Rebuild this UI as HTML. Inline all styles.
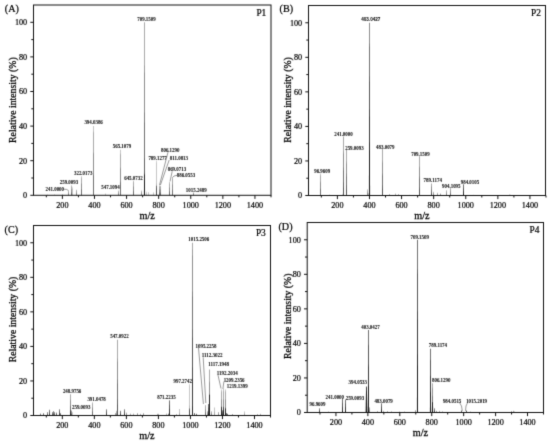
<!DOCTYPE html>
<html><head><meta charset="utf-8"><title>Mass spectra P1-P4</title>
<style>html,body{margin:0;padding:0;background:#fff;}body{width:550px;height:444px;overflow:hidden;}svg{display:block;}</style></head><body>
<svg width="550" height="444" viewBox="0 0 550 444">
<defs><filter id="soft" x="0" y="0" width="100%" height="100%" filterUnits="objectBoundingBox" color-interpolation-filters="sRGB"><feConvolveMatrix order="3" kernelMatrix="1 6 1 6 36 6 1 6 1" divisor="64" edgeMode="duplicate"/></filter></defs>
<g filter="url(#soft)">
<rect x="0" y="0" width="550" height="444" fill="#fff"/>
<g id="panelA">
<polygon points="47.36,195.3 47.43,194.44 47.57,194.44 47.64,195.3" fill="#1e1e1e"/>
<polygon points="54.36,195.3 54.43,194.26 54.57,194.26 54.64,195.3" fill="#1e1e1e"/>
<polygon points="62.36,195.3 62.43,194.09 62.57,194.09 62.64,195.3" fill="#1e1e1e"/>
<polygon points="68.2,195.3 68.37,190.63 68.63,190.63 68.8,195.3" fill="#1e1e1e"/>
<polygon points="71.16,195.3 71.36,185.27 71.64,185.27 71.84,195.3" fill="#1e1e1e"/>
<polygon points="72.34,195.3 72.42,186.65 72.58,186.65 72.66,195.3" fill="#1e1e1e"/>
<polygon points="76.2,195.3 76.37,189.76 76.63,189.76 76.8,195.3" fill="#1e1e1e"/>
<polygon points="81.16,195.3 81.36,176.27 81.64,176.27 81.84,195.3" fill="#1e1e1e"/>
<polygon points="93.16,195.3 93.36,126.1 93.64,126.1 93.84,195.3" fill="#1e1e1e"/>
<polygon points="105.34,195.3 105.42,193.57 105.58,193.57 105.66,195.3" fill="#1e1e1e"/>
<polygon points="118.2,195.3 118.37,190.46 118.63,190.46 118.8,195.3" fill="#1e1e1e"/>
<polygon points="120.16,195.3 120.36,149.63 120.64,149.63 120.84,195.3" fill="#1e1e1e"/>
<polygon points="133.16,195.3 133.36,180.77 133.64,180.77 133.84,195.3" fill="#1e1e1e"/>
<polygon points="141.2,195.3 141.37,190.46 141.63,190.46 141.8,195.3" fill="#1e1e1e"/>
<polygon points="144.12,195.3 144.34,22.3 144.66,22.3 144.88,195.3" fill="#1e1e1e"/>
<polygon points="143.95,195.3 144.08,174.54 144.92,174.54 145.05,195.3" fill="#1e1e1e"/>
<polygon points="146.34,195.3 146.42,191.49 146.58,191.49 146.66,195.3" fill="#1e1e1e"/>
<polygon points="148.34,195.3 148.42,192.01 148.58,192.01 148.66,195.3" fill="#1e1e1e"/>
<polygon points="153.34,195.3 153.42,192.36 153.58,192.36 153.66,195.3" fill="#1e1e1e"/>
<polygon points="156.32,195.3 156.41,160.87 156.59,160.87 156.68,195.3" fill="#1e1e1e"/>
<polygon points="156.16,195.3 156.24,185.79 156.76,185.79 156.84,195.3" fill="#1e1e1e"/>
<polygon points="159.16,195.3 159.36,185.27 159.64,185.27 159.84,195.3" fill="#1e1e1e"/>
<polygon points="160.16,195.3 160.36,185.79 160.64,185.79 160.84,195.3" fill="#1e1e1e"/>
<polygon points="169.16,195.3 169.36,181.98 169.64,181.98 169.84,195.3" fill="#1e1e1e"/>
<polygon points="172.16,195.3 172.36,177.31 172.64,177.31 172.84,195.3" fill="#1e1e1e"/>
<polygon points="193.2,195.3 193.37,192.53 193.63,192.53 193.8,195.3" fill="#1e1e1e"/>
<polyline points="63.8,189.2 66.5,189.4 68.6,190.6" fill="none" stroke="#555" stroke-width="0.6"/>
<polyline points="168,152.2 159.5,185" fill="none" stroke="#555" stroke-width="0.6"/>
<polyline points="169.2,160 160.4,185" fill="none" stroke="#555" stroke-width="0.6"/>
<polyline points="172.2,171.3 170,181.5" fill="none" stroke="#555" stroke-width="0.6"/>
<polyline points="177,175.3 174,176 172.6,177.5" fill="none" stroke="#555" stroke-width="0.6"/>
<text x="146.5" y="20.8" text-anchor="middle" font-family='"Liberation Serif", "Times New Roman", serif' font-weight="bold" font-size="5.1" fill="#111" stroke="#111" stroke-width="0.06" textLength="18.45" lengthAdjust="spacingAndGlyphs">709.1509</text>
<text x="93.6" y="124.4" text-anchor="middle" font-family='"Liberation Serif", "Times New Roman", serif' font-weight="bold" font-size="5.1" fill="#111" stroke="#111" stroke-width="0.06" textLength="18.45" lengthAdjust="spacingAndGlyphs">394.0386</text>
<text x="122" y="148.4" text-anchor="middle" font-family='"Liberation Serif", "Times New Roman", serif' font-weight="bold" font-size="5.1" fill="#111" stroke="#111" stroke-width="0.06" textLength="18.45" lengthAdjust="spacingAndGlyphs">565.1079</text>
<text x="83.2" y="175.2" text-anchor="middle" font-family='"Liberation Serif", "Times New Roman", serif' font-weight="bold" font-size="5.1" fill="#111" stroke="#111" stroke-width="0.06" textLength="18.45" lengthAdjust="spacingAndGlyphs">322.0173</text>
<text x="69" y="184.4" text-anchor="middle" font-family='"Liberation Serif", "Times New Roman", serif' font-weight="bold" font-size="5.1" fill="#111" stroke="#111" stroke-width="0.06" textLength="18.45" lengthAdjust="spacingAndGlyphs">259.0093</text>
<text x="54.8" y="190.5" text-anchor="middle" font-family='"Liberation Serif", "Times New Roman", serif' font-weight="bold" font-size="5.1" fill="#111" stroke="#111" stroke-width="0.06" textLength="18.45" lengthAdjust="spacingAndGlyphs">241.0000</text>
<text x="110.5" y="188.7" text-anchor="middle" font-family='"Liberation Serif", "Times New Roman", serif' font-weight="bold" font-size="5.1" fill="#111" stroke="#111" stroke-width="0.06" textLength="18.45" lengthAdjust="spacingAndGlyphs">547.1094</text>
<text x="133.4" y="180" text-anchor="middle" font-family='"Liberation Serif", "Times New Roman", serif' font-weight="bold" font-size="5.1" fill="#111" stroke="#111" stroke-width="0.06" textLength="18.45" lengthAdjust="spacingAndGlyphs">645.0732</text>
<text x="157.6" y="160.3" text-anchor="middle" font-family='"Liberation Serif", "Times New Roman", serif' font-weight="bold" font-size="5.1" fill="#111" stroke="#111" stroke-width="0.06" textLength="18.45" lengthAdjust="spacingAndGlyphs">789.1277</text>
<text x="170.2" y="152.4" text-anchor="middle" font-family='"Liberation Serif", "Times New Roman", serif' font-weight="bold" font-size="5.1" fill="#111" stroke="#111" stroke-width="0.06" textLength="18.45" lengthAdjust="spacingAndGlyphs">806.1290</text>
<text x="178.9" y="160.3" text-anchor="middle" font-family='"Liberation Serif", "Times New Roman", serif' font-weight="bold" font-size="5.1" fill="#111" stroke="#111" stroke-width="0.06" textLength="18.45" lengthAdjust="spacingAndGlyphs">811.0813</text>
<text x="176.9" y="171.3" text-anchor="middle" font-family='"Liberation Serif", "Times New Roman", serif' font-weight="bold" font-size="5.1" fill="#111" stroke="#111" stroke-width="0.06" textLength="18.45" lengthAdjust="spacingAndGlyphs">869.0713</text>
<text x="186" y="177.2" text-anchor="middle" font-family='"Liberation Serif", "Times New Roman", serif' font-weight="bold" font-size="5.1" fill="#111" stroke="#111" stroke-width="0.06" textLength="18.45" lengthAdjust="spacingAndGlyphs">886.0553</text>
<text x="196.3" y="191.8" text-anchor="middle" font-family='"Liberation Serif", "Times New Roman", serif' font-weight="bold" font-size="5.1" fill="#111" stroke="#111" stroke-width="0.06" textLength="20.95" lengthAdjust="spacingAndGlyphs">1015.2489</text>
<rect x="33.5" y="5" width="237.5" height="190.3" fill="none" stroke="#111" stroke-width="1"/>
<line x1="46.34" y1="195.3" x2="46.34" y2="197.3" stroke="#111" stroke-width="1"/>
<line x1="62.39" y1="195.3" x2="62.39" y2="198.9" stroke="#111" stroke-width="1"/>
<text x="62.39" y="207.8" text-anchor="middle" font-family='"Liberation Serif", "Times New Roman", serif' font-size="8.2" fill="#000" stroke="#000" stroke-width="0.2">200</text>
<line x1="78.43" y1="195.3" x2="78.43" y2="197.3" stroke="#111" stroke-width="1"/>
<line x1="94.48" y1="195.3" x2="94.48" y2="198.9" stroke="#111" stroke-width="1"/>
<text x="94.48" y="207.8" text-anchor="middle" font-family='"Liberation Serif", "Times New Roman", serif' font-size="8.2" fill="#000" stroke="#000" stroke-width="0.2">400</text>
<line x1="110.53" y1="195.3" x2="110.53" y2="197.3" stroke="#111" stroke-width="1"/>
<line x1="126.57" y1="195.3" x2="126.57" y2="198.9" stroke="#111" stroke-width="1"/>
<text x="126.57" y="207.8" text-anchor="middle" font-family='"Liberation Serif", "Times New Roman", serif' font-size="8.2" fill="#000" stroke="#000" stroke-width="0.2">600</text>
<line x1="142.62" y1="195.3" x2="142.62" y2="197.3" stroke="#111" stroke-width="1"/>
<line x1="158.67" y1="195.3" x2="158.67" y2="198.9" stroke="#111" stroke-width="1"/>
<text x="158.67" y="207.8" text-anchor="middle" font-family='"Liberation Serif", "Times New Roman", serif' font-size="8.2" fill="#000" stroke="#000" stroke-width="0.2">800</text>
<line x1="174.72" y1="195.3" x2="174.72" y2="197.3" stroke="#111" stroke-width="1"/>
<line x1="190.76" y1="195.3" x2="190.76" y2="198.9" stroke="#111" stroke-width="1"/>
<text x="190.76" y="207.8" text-anchor="middle" font-family='"Liberation Serif", "Times New Roman", serif' font-size="8.2" fill="#000" stroke="#000" stroke-width="0.2">1000</text>
<line x1="206.81" y1="195.3" x2="206.81" y2="197.3" stroke="#111" stroke-width="1"/>
<line x1="222.86" y1="195.3" x2="222.86" y2="198.9" stroke="#111" stroke-width="1"/>
<text x="222.86" y="207.8" text-anchor="middle" font-family='"Liberation Serif", "Times New Roman", serif' font-size="8.2" fill="#000" stroke="#000" stroke-width="0.2">1200</text>
<line x1="238.91" y1="195.3" x2="238.91" y2="197.3" stroke="#111" stroke-width="1"/>
<line x1="254.95" y1="195.3" x2="254.95" y2="198.9" stroke="#111" stroke-width="1"/>
<text x="254.95" y="207.8" text-anchor="middle" font-family='"Liberation Serif", "Times New Roman", serif' font-size="8.2" fill="#000" stroke="#000" stroke-width="0.2">1400</text>
<line x1="271" y1="195.3" x2="271" y2="197.3" stroke="#111" stroke-width="1"/>
<line x1="30.3" y1="195.3" x2="33.5" y2="195.3" stroke="#111" stroke-width="1"/>
<text x="27.2" y="198.1" text-anchor="end" font-family='"Liberation Serif", "Times New Roman", serif' font-size="8.2" fill="#000" stroke="#000" stroke-width="0.2">0</text>
<line x1="31.3" y1="178" x2="33.5" y2="178" stroke="#111" stroke-width="1"/>
<line x1="30.3" y1="160.7" x2="33.5" y2="160.7" stroke="#111" stroke-width="1"/>
<text x="27.2" y="163.5" text-anchor="end" font-family='"Liberation Serif", "Times New Roman", serif' font-size="8.2" fill="#000" stroke="#000" stroke-width="0.2">20</text>
<line x1="31.3" y1="143.4" x2="33.5" y2="143.4" stroke="#111" stroke-width="1"/>
<line x1="30.3" y1="126.1" x2="33.5" y2="126.1" stroke="#111" stroke-width="1"/>
<text x="27.2" y="128.9" text-anchor="end" font-family='"Liberation Serif", "Times New Roman", serif' font-size="8.2" fill="#000" stroke="#000" stroke-width="0.2">40</text>
<line x1="31.3" y1="108.8" x2="33.5" y2="108.8" stroke="#111" stroke-width="1"/>
<line x1="30.3" y1="91.5" x2="33.5" y2="91.5" stroke="#111" stroke-width="1"/>
<text x="27.2" y="94.3" text-anchor="end" font-family='"Liberation Serif", "Times New Roman", serif' font-size="8.2" fill="#000" stroke="#000" stroke-width="0.2">60</text>
<line x1="31.3" y1="74.2" x2="33.5" y2="74.2" stroke="#111" stroke-width="1"/>
<line x1="30.3" y1="56.9" x2="33.5" y2="56.9" stroke="#111" stroke-width="1"/>
<text x="27.2" y="59.7" text-anchor="end" font-family='"Liberation Serif", "Times New Roman", serif' font-size="8.2" fill="#000" stroke="#000" stroke-width="0.2">80</text>
<line x1="31.3" y1="39.6" x2="33.5" y2="39.6" stroke="#111" stroke-width="1"/>
<line x1="30.3" y1="22.3" x2="33.5" y2="22.3" stroke="#111" stroke-width="1"/>
<text x="27.2" y="25.1" text-anchor="end" font-family='"Liberation Serif", "Times New Roman", serif' font-size="8.2" fill="#000" stroke="#000" stroke-width="0.2">100</text>
<text x="147.25" y="218.6" text-anchor="middle" font-family='"Liberation Serif", "Times New Roman", serif' font-size="10.2" fill="#000" stroke="#000" stroke-width="0.26">m/z</text>
<text transform="translate(16,100.15) rotate(-90)" x="0" y="0" text-anchor="middle" font-family='"Liberation Serif", "Times New Roman", serif' font-size="9.75" fill="#000" stroke="#000" stroke-width="0.26">Relative intensity (%)</text>
<text x="4.8" y="11.8" font-family='"Liberation Serif", "Times New Roman", serif' font-size="10.1" fill="#000" stroke="#000" stroke-width="0.22">(A)</text>
<text x="266.3" y="15.6" text-anchor="end" font-family='"Liberation Serif", "Times New Roman", serif' font-size="9.4" fill="#000" stroke="#000" stroke-width="0.22">P1</text>
</g>
<g id="panelB">
<polygon points="320.16,195.5 320.36,173.39 320.64,173.39 320.84,195.5" fill="#1e1e1e"/>
<polygon points="329.36,195.5 329.43,194.46 329.57,194.46 329.64,195.5" fill="#1e1e1e"/>
<polygon points="342.36,195.5 342.43,193.77 342.57,193.77 342.64,195.5" fill="#1e1e1e"/>
<polygon points="343.12,195.5 343.34,136.6 343.66,136.6 343.88,195.5" fill="#1e1e1e"/>
<polygon points="346.12,195.5 346.34,149.9 346.66,149.9 346.88,195.5" fill="#1e1e1e"/>
<polygon points="367.2,195.5 367.37,189.28 367.63,189.28 367.8,195.5" fill="#1e1e1e"/>
<polygon points="368.34,195.5 368.42,192.91 368.58,192.91 368.66,195.5" fill="#1e1e1e"/>
<polygon points="368.94,195.5 369.26,22.77 369.74,22.77 370.06,195.5" fill="#1e1e1e"/>
<polygon points="382.12,195.5 382.34,149.04 382.66,149.04 382.88,195.5" fill="#1e1e1e"/>
<polygon points="389.24,195.5 389.39,193.95 389.61,193.95 389.76,195.5" fill="#1e1e1e"/>
<polygon points="395.24,195.5 395.39,193.6 395.61,193.6 395.76,195.5" fill="#1e1e1e"/>
<polygon points="398.24,195.5 398.39,193.95 398.61,193.95 398.76,195.5" fill="#1e1e1e"/>
<polygon points="409.36,195.5 409.43,194.64 409.57,194.64 409.64,195.5" fill="#1e1e1e"/>
<polygon points="419.12,195.5 419.34,156.29 419.66,156.29 419.88,195.5" fill="#1e1e1e"/>
<polygon points="431.12,195.5 431.34,183.41 431.66,183.41 431.88,195.5" fill="#1e1e1e"/>
<polygon points="433.2,195.5 433.37,191.7 433.63,191.7 433.8,195.5" fill="#1e1e1e"/>
<polygon points="437.2,195.5 437.37,192.74 437.63,192.74 437.8,195.5" fill="#1e1e1e"/>
<polygon points="440.2,195.5 440.37,193.43 440.63,193.43 440.8,195.5" fill="#1e1e1e"/>
<polygon points="446.2,195.5 446.37,190.32 446.63,190.32 446.8,195.5" fill="#1e1e1e"/>
<polygon points="450.16,195.5 450.36,187.9 450.64,187.9 450.84,195.5" fill="#1e1e1e"/>
<polygon points="463,195.5 463.23,184.27 463.77,184.27 464,195.5" fill="#1e1e1e"/>
<polygon points="473.36,195.5 473.43,194.64 473.57,194.64 473.64,195.5" fill="#1e1e1e"/>
<polygon points="509.2,195.5 509.37,194.46 509.63,194.46 509.8,195.5" fill="#1e1e1e"/>
<polygon points="510.2,195.5 510.37,194.64 510.63,194.64 510.8,195.5" fill="#1e1e1e"/>
<text x="322.2" y="173.1" text-anchor="middle" font-family='"Liberation Serif", "Times New Roman", serif' font-weight="bold" font-size="5.1" fill="#111" stroke="#111" stroke-width="0.06" textLength="15.95" lengthAdjust="spacingAndGlyphs">96.9609</text>
<text x="343.5" y="135.8" text-anchor="middle" font-family='"Liberation Serif", "Times New Roman", serif' font-weight="bold" font-size="5.1" fill="#111" stroke="#111" stroke-width="0.06" textLength="18.45" lengthAdjust="spacingAndGlyphs">241.0000</text>
<text x="354.4" y="150.4" text-anchor="middle" font-family='"Liberation Serif", "Times New Roman", serif' font-weight="bold" font-size="5.1" fill="#111" stroke="#111" stroke-width="0.06" textLength="18.45" lengthAdjust="spacingAndGlyphs">259.0093</text>
<text x="370.8" y="20.8" text-anchor="middle" font-family='"Liberation Sans", Arial, sans-serif' font-size="4.6" font-weight="bold" fill="#111" stroke="#111" stroke-width="0.05">403.0427</text>
<text x="385.3" y="149.1" text-anchor="middle" font-family='"Liberation Serif", "Times New Roman", serif' font-weight="bold" font-size="5.1" fill="#111" stroke="#111" stroke-width="0.06" textLength="18.45" lengthAdjust="spacingAndGlyphs">483.0079</text>
<text x="420.4" y="156.4" text-anchor="middle" font-family='"Liberation Serif", "Times New Roman", serif' font-weight="bold" font-size="5.1" fill="#111" stroke="#111" stroke-width="0.06" textLength="18.45" lengthAdjust="spacingAndGlyphs">709.1509</text>
<text x="432.7" y="182.2" text-anchor="middle" font-family='"Liberation Serif", "Times New Roman", serif' font-weight="bold" font-size="5.1" fill="#111" stroke="#111" stroke-width="0.06" textLength="18.45" lengthAdjust="spacingAndGlyphs">789.1174</text>
<text x="451.3" y="188.2" text-anchor="middle" font-family='"Liberation Serif", "Times New Roman", serif' font-weight="bold" font-size="5.1" fill="#111" stroke="#111" stroke-width="0.06" textLength="18.45" lengthAdjust="spacingAndGlyphs">904.1095</text>
<text x="470" y="183.7" text-anchor="middle" font-family='"Liberation Serif", "Times New Roman", serif' font-weight="bold" font-size="5.1" fill="#111" stroke="#111" stroke-width="0.06" textLength="18.45" lengthAdjust="spacingAndGlyphs">984.0105</text>
<rect x="308.5" y="5.5" width="237" height="190" fill="none" stroke="#111" stroke-width="1"/>
<line x1="321.34" y1="195.5" x2="321.34" y2="197.5" stroke="#111" stroke-width="1"/>
<line x1="337.39" y1="195.5" x2="337.39" y2="199.1" stroke="#111" stroke-width="1"/>
<text x="337.39" y="208" text-anchor="middle" font-family='"Liberation Serif", "Times New Roman", serif' font-size="8.2" fill="#000" stroke="#000" stroke-width="0.2">200</text>
<line x1="353.43" y1="195.5" x2="353.43" y2="197.5" stroke="#111" stroke-width="1"/>
<line x1="369.48" y1="195.5" x2="369.48" y2="199.1" stroke="#111" stroke-width="1"/>
<text x="369.48" y="208" text-anchor="middle" font-family='"Liberation Serif", "Times New Roman", serif' font-size="8.2" fill="#000" stroke="#000" stroke-width="0.2">400</text>
<line x1="385.53" y1="195.5" x2="385.53" y2="197.5" stroke="#111" stroke-width="1"/>
<line x1="401.57" y1="195.5" x2="401.57" y2="199.1" stroke="#111" stroke-width="1"/>
<text x="401.57" y="208" text-anchor="middle" font-family='"Liberation Serif", "Times New Roman", serif' font-size="8.2" fill="#000" stroke="#000" stroke-width="0.2">600</text>
<line x1="417.62" y1="195.5" x2="417.62" y2="197.5" stroke="#111" stroke-width="1"/>
<line x1="433.67" y1="195.5" x2="433.67" y2="199.1" stroke="#111" stroke-width="1"/>
<text x="433.67" y="208" text-anchor="middle" font-family='"Liberation Serif", "Times New Roman", serif' font-size="8.2" fill="#000" stroke="#000" stroke-width="0.2">800</text>
<line x1="449.72" y1="195.5" x2="449.72" y2="197.5" stroke="#111" stroke-width="1"/>
<line x1="465.76" y1="195.5" x2="465.76" y2="199.1" stroke="#111" stroke-width="1"/>
<text x="465.76" y="208" text-anchor="middle" font-family='"Liberation Serif", "Times New Roman", serif' font-size="8.2" fill="#000" stroke="#000" stroke-width="0.2">1000</text>
<line x1="481.81" y1="195.5" x2="481.81" y2="197.5" stroke="#111" stroke-width="1"/>
<line x1="497.86" y1="195.5" x2="497.86" y2="199.1" stroke="#111" stroke-width="1"/>
<text x="497.86" y="208" text-anchor="middle" font-family='"Liberation Serif", "Times New Roman", serif' font-size="8.2" fill="#000" stroke="#000" stroke-width="0.2">1200</text>
<line x1="513.91" y1="195.5" x2="513.91" y2="197.5" stroke="#111" stroke-width="1"/>
<line x1="529.95" y1="195.5" x2="529.95" y2="199.1" stroke="#111" stroke-width="1"/>
<text x="529.95" y="208" text-anchor="middle" font-family='"Liberation Serif", "Times New Roman", serif' font-size="8.2" fill="#000" stroke="#000" stroke-width="0.2">1400</text>
<line x1="546" y1="195.5" x2="546" y2="197.5" stroke="#111" stroke-width="1"/>
<line x1="305.3" y1="195.5" x2="308.5" y2="195.5" stroke="#111" stroke-width="1"/>
<text x="302.2" y="198.3" text-anchor="end" font-family='"Liberation Serif", "Times New Roman", serif' font-size="8.2" fill="#000" stroke="#000" stroke-width="0.2">0</text>
<line x1="306.3" y1="178.23" x2="308.5" y2="178.23" stroke="#111" stroke-width="1"/>
<line x1="305.3" y1="160.95" x2="308.5" y2="160.95" stroke="#111" stroke-width="1"/>
<text x="302.2" y="163.75" text-anchor="end" font-family='"Liberation Serif", "Times New Roman", serif' font-size="8.2" fill="#000" stroke="#000" stroke-width="0.2">20</text>
<line x1="306.3" y1="143.68" x2="308.5" y2="143.68" stroke="#111" stroke-width="1"/>
<line x1="305.3" y1="126.41" x2="308.5" y2="126.41" stroke="#111" stroke-width="1"/>
<text x="302.2" y="129.21" text-anchor="end" font-family='"Liberation Serif", "Times New Roman", serif' font-size="8.2" fill="#000" stroke="#000" stroke-width="0.2">40</text>
<line x1="306.3" y1="109.14" x2="308.5" y2="109.14" stroke="#111" stroke-width="1"/>
<line x1="305.3" y1="91.86" x2="308.5" y2="91.86" stroke="#111" stroke-width="1"/>
<text x="302.2" y="94.66" text-anchor="end" font-family='"Liberation Serif", "Times New Roman", serif' font-size="8.2" fill="#000" stroke="#000" stroke-width="0.2">60</text>
<line x1="306.3" y1="74.59" x2="308.5" y2="74.59" stroke="#111" stroke-width="1"/>
<line x1="305.3" y1="57.32" x2="308.5" y2="57.32" stroke="#111" stroke-width="1"/>
<text x="302.2" y="60.12" text-anchor="end" font-family='"Liberation Serif", "Times New Roman", serif' font-size="8.2" fill="#000" stroke="#000" stroke-width="0.2">80</text>
<line x1="306.3" y1="40.05" x2="308.5" y2="40.05" stroke="#111" stroke-width="1"/>
<line x1="305.3" y1="22.77" x2="308.5" y2="22.77" stroke="#111" stroke-width="1"/>
<text x="302.2" y="25.57" text-anchor="end" font-family='"Liberation Serif", "Times New Roman", serif' font-size="8.2" fill="#000" stroke="#000" stroke-width="0.2">100</text>
<text x="422" y="218.8" text-anchor="middle" font-family='"Liberation Serif", "Times New Roman", serif' font-size="10.2" fill="#000" stroke="#000" stroke-width="0.26">m/z</text>
<text transform="translate(291,100) rotate(-90)" x="0" y="0" text-anchor="middle" font-family='"Liberation Serif", "Times New Roman", serif' font-size="9.75" fill="#000" stroke="#000" stroke-width="0.26">Relative intensity (%)</text>
<text x="279.6" y="12" font-family='"Liberation Serif", "Times New Roman", serif' font-size="10.1" fill="#000" stroke="#000" stroke-width="0.22">(B)</text>
<text x="541" y="15.7" text-anchor="end" font-family='"Liberation Serif", "Times New Roman", serif' font-size="9.4" fill="#000" stroke="#000" stroke-width="0.22">P2</text>
</g>
<g id="panelC">
<polygon points="40.12,415.5 40.29,413.6 40.71,413.6 40.88,415.5" fill="#1e1e1e"/>
<polygon points="43.12,415.5 43.29,413.08 43.71,413.08 43.88,415.5" fill="#1e1e1e"/>
<polygon points="47.12,415.5 47.29,412.05 47.71,412.05 47.88,415.5" fill="#1e1e1e"/>
<polygon points="49.06,415.5 49.26,409.8 49.74,409.8 49.94,415.5" fill="#1e1e1e"/>
<polygon points="52.12,415.5 52.29,412.05 52.71,412.05 52.88,415.5" fill="#1e1e1e"/>
<polygon points="53.12,415.5 53.29,411.01 53.71,411.01 53.88,415.5" fill="#1e1e1e"/>
<polygon points="54.12,415.5 54.29,412.05 54.71,412.05 54.88,415.5" fill="#1e1e1e"/>
<polygon points="56.12,415.5 56.29,412.56 56.71,412.56 56.88,415.5" fill="#1e1e1e"/>
<polygon points="59.06,415.5 59.26,409.28 59.74,409.28 59.94,415.5" fill="#1e1e1e"/>
<polygon points="60.12,415.5 60.29,413.08 60.71,413.08 60.88,415.5" fill="#1e1e1e"/>
<polygon points="70.12,415.5 70.34,394.25 70.66,394.25 70.88,415.5" fill="#1e1e1e"/>
<polygon points="70.12,415.5 70.34,410.32 70.66,410.32 70.88,415.5" fill="#1e1e1e"/>
<polygon points="71.12,415.5 71.34,410.49 71.66,410.49 71.88,415.5" fill="#1e1e1e"/>
<polygon points="72.34,415.5 72.42,412.05 72.58,412.05 72.66,415.5" fill="#1e1e1e"/>
<polygon points="92.16,415.5 92.36,402.37 92.64,402.37 92.84,415.5" fill="#1e1e1e"/>
<polygon points="106.06,415.5 106.26,409.28 106.74,409.28 106.94,415.5" fill="#1e1e1e"/>
<polygon points="115.2,415.5 115.37,412.91 115.63,412.91 115.8,415.5" fill="#1e1e1e"/>
<polygon points="116.2,415.5 116.37,410.66 116.63,410.66 116.8,415.5" fill="#1e1e1e"/>
<polygon points="117.12,415.5 117.34,339.67 117.66,339.67 117.88,415.5" fill="#1e1e1e"/>
<polygon points="120.06,415.5 120.26,410.84 120.74,410.84 120.94,415.5" fill="#1e1e1e"/>
<polygon points="124.06,415.5 124.26,409.28 124.74,409.28 124.94,415.5" fill="#1e1e1e"/>
<polygon points="126.2,415.5 126.37,412.39 126.63,412.39 126.8,415.5" fill="#1e1e1e"/>
<polygon points="130.24,415.5 130.39,413.43 130.61,413.43 130.76,415.5" fill="#1e1e1e"/>
<polygon points="133.24,415.5 133.39,413.43 133.61,413.43 133.76,415.5" fill="#1e1e1e"/>
<polygon points="137.24,415.5 137.39,412.91 137.61,412.91 137.76,415.5" fill="#1e1e1e"/>
<polygon points="140.24,415.5 140.39,413.77 140.61,413.77 140.76,415.5" fill="#1e1e1e"/>
<polygon points="143.24,415.5 143.39,412.91 143.61,412.91 143.76,415.5" fill="#1e1e1e"/>
<polygon points="157.24,415.5 157.39,413.77 157.61,413.77 157.76,415.5" fill="#1e1e1e"/>
<polygon points="158.24,415.5 158.39,413.77 158.61,413.77 158.76,415.5" fill="#1e1e1e"/>
<polygon points="166.24,415.5 166.39,413.43 166.61,413.43 166.76,415.5" fill="#1e1e1e"/>
<polygon points="168.24,415.5 168.39,413.77 168.61,413.77 168.76,415.5" fill="#1e1e1e"/>
<polygon points="168.24,415.5 168.39,413.43 168.61,413.43 168.76,415.5" fill="#1e1e1e"/>
<polygon points="169,415.5 169.23,400.13 169.77,400.13 170,415.5" fill="#1e1e1e"/>
<polygon points="176.24,415.5 176.39,413.95 176.61,413.95 176.76,415.5" fill="#1e1e1e"/>
<polygon points="179.3,415.5 179.4,408.94 179.6,408.94 179.7,415.5" fill="#1e1e1e"/>
<polygon points="189.32,415.5 189.41,384.06 189.59,384.06 189.68,415.5" fill="#1e1e1e"/>
<polygon points="189.16,415.5 189.24,408.59 189.76,408.59 189.84,415.5" fill="#1e1e1e"/>
<polygon points="192.03,415.5 192.3,242.77 192.7,242.77 192.97,415.5" fill="#1e1e1e"/>
<polygon points="194.06,415.5 194.26,412.91 194.74,412.91 194.94,415.5" fill="#1e1e1e"/>
<polygon points="196.06,415.5 196.26,413.77 196.74,413.77 196.94,415.5" fill="#1e1e1e"/>
<polygon points="205.16,415.5 205.36,404.96 205.64,404.96 205.84,415.5" fill="#1e1e1e"/>
<polygon points="207.2,415.5 207.37,411.18 207.63,411.18 207.8,415.5" fill="#1e1e1e"/>
<polygon points="208,415.5 208.23,404.1 208.77,404.1 209,415.5" fill="#1e1e1e"/>
<polygon points="209.12,415.5 209.34,369.55 209.66,369.55 209.88,415.5" fill="#1e1e1e"/>
<polygon points="208.95,415.5 209.08,394.77 209.92,394.77 210.05,415.5" fill="#1e1e1e"/>
<polygon points="211.2,415.5 211.37,411.18 211.63,411.18 211.8,415.5" fill="#1e1e1e"/>
<polygon points="214.3,415.5 214.4,407.55 214.6,407.55 214.7,415.5" fill="#1e1e1e"/>
<polygon points="218.2,415.5 218.37,412.05 218.63,412.05 218.8,415.5" fill="#1e1e1e"/>
<polygon points="221.16,415.5 221.36,389.59 221.64,389.59 221.84,415.5" fill="#1e1e1e"/>
<polygon points="221,415.5 221.12,406.86 221.88,406.86 222,415.5" fill="#1e1e1e"/>
<polygon points="222.06,415.5 222.26,410.32 222.74,410.32 222.94,415.5" fill="#1e1e1e"/>
<polygon points="223.06,415.5 223.26,406.86 223.74,406.86 223.94,415.5" fill="#1e1e1e"/>
<polygon points="223.16,415.5 223.36,388.73 223.64,388.73 223.84,415.5" fill="#1e1e1e"/>
<polygon points="223,415.5 223.12,410.32 223.88,410.32 224,415.5" fill="#1e1e1e"/>
<polygon points="225.16,415.5 225.36,389.59 225.64,389.59 225.84,415.5" fill="#1e1e1e"/>
<polygon points="225,415.5 225.12,408.59 225.88,408.59 226,415.5" fill="#1e1e1e"/>
<polygon points="226.06,415.5 226.26,412.91 226.74,412.91 226.94,415.5" fill="#1e1e1e"/>
<polygon points="227.06,415.5 227.26,413.77 227.74,413.77 227.94,415.5" fill="#1e1e1e"/>
<polygon points="232.2,415.5 232.37,414.12 232.63,414.12 232.8,415.5" fill="#1e1e1e"/>
<polygon points="244.3,415.5 244.4,411.53 244.6,411.53 244.7,415.5" fill="#1e1e1e"/>
<polygon points="257.24,415.5 257.39,414.12 257.61,414.12 257.76,415.5" fill="#1e1e1e"/>
<polygon points="260.24,415.5 260.39,413.77 260.61,413.77 260.76,415.5" fill="#1e1e1e"/>
<polyline points="198.5,347.8 203.4,404" fill="none" stroke="#555" stroke-width="0.6"/>
<polyline points="203.2,357.3 205.8,403" fill="none" stroke="#555" stroke-width="0.6"/>
<polyline points="218,375.1 221,388.5" fill="none" stroke="#555" stroke-width="0.6"/>
<polyline points="223.9,381.5 222.9,389" fill="none" stroke="#555" stroke-width="0.6"/>
<text x="198.8" y="240.8" text-anchor="middle" font-family='"Liberation Serif", "Times New Roman", serif' font-weight="bold" font-size="5.1" fill="#111" stroke="#111" stroke-width="0.06" textLength="20.95" lengthAdjust="spacingAndGlyphs">1015.2506</text>
<text x="119.4" y="337.7" text-anchor="middle" font-family='"Liberation Serif", "Times New Roman", serif' font-weight="bold" font-size="5.1" fill="#111" stroke="#111" stroke-width="0.06" textLength="18.45" lengthAdjust="spacingAndGlyphs">547.0922</text>
<text x="72.1" y="392.7" text-anchor="middle" font-family='"Liberation Serif", "Times New Roman", serif' font-weight="bold" font-size="5.1" fill="#111" stroke="#111" stroke-width="0.06" textLength="18.45" lengthAdjust="spacingAndGlyphs">248.9756</text>
<text x="81.2" y="408.9" text-anchor="middle" font-family='"Liberation Serif", "Times New Roman", serif' font-weight="bold" font-size="5.1" fill="#111" stroke="#111" stroke-width="0.06" textLength="18.45" lengthAdjust="spacingAndGlyphs">259.0093</text>
<text x="96.6" y="400.7" text-anchor="middle" font-family='"Liberation Serif", "Times New Roman", serif' font-weight="bold" font-size="5.1" fill="#111" stroke="#111" stroke-width="0.06" textLength="18.45" lengthAdjust="spacingAndGlyphs">391.0478</text>
<text x="166.4" y="398.6" text-anchor="middle" font-family='"Liberation Serif", "Times New Roman", serif' font-weight="bold" font-size="5.1" fill="#111" stroke="#111" stroke-width="0.06" textLength="18.45" lengthAdjust="spacingAndGlyphs">871.2235</text>
<text x="182.7" y="382.6" text-anchor="middle" font-family='"Liberation Serif", "Times New Roman", serif' font-weight="bold" font-size="5.1" fill="#111" stroke="#111" stroke-width="0.06" textLength="18.45" lengthAdjust="spacingAndGlyphs">997.2742</text>
<text x="206" y="348" text-anchor="middle" font-family='"Liberation Serif", "Times New Roman", serif' font-weight="bold" font-size="5.1" fill="#111" stroke="#111" stroke-width="0.06" textLength="20.95" lengthAdjust="spacingAndGlyphs">1095.2258</text>
<text x="212.1" y="357.3" text-anchor="middle" font-family='"Liberation Serif", "Times New Roman", serif' font-weight="bold" font-size="5.1" fill="#111" stroke="#111" stroke-width="0.06" textLength="20.95" lengthAdjust="spacingAndGlyphs">1112.3022</text>
<text x="218.6" y="365.7" text-anchor="middle" font-family='"Liberation Serif", "Times New Roman", serif' font-weight="bold" font-size="5.1" fill="#111" stroke="#111" stroke-width="0.06" textLength="20.95" lengthAdjust="spacingAndGlyphs">1117.1948</text>
<text x="227.3" y="375.3" text-anchor="middle" font-family='"Liberation Serif", "Times New Roman", serif' font-weight="bold" font-size="5.1" fill="#111" stroke="#111" stroke-width="0.06" textLength="20.95" lengthAdjust="spacingAndGlyphs">1192.2034</text>
<text x="234.1" y="381.6" text-anchor="middle" font-family='"Liberation Serif", "Times New Roman", serif' font-weight="bold" font-size="5.1" fill="#111" stroke="#111" stroke-width="0.06" textLength="20.95" lengthAdjust="spacingAndGlyphs">1209.2356</text>
<text x="237.2" y="387.8" text-anchor="middle" font-family='"Liberation Serif", "Times New Roman", serif' font-weight="bold" font-size="5.1" fill="#111" stroke="#111" stroke-width="0.06" textLength="20.95" lengthAdjust="spacingAndGlyphs">1219.1399</text>
<rect x="33.5" y="225.5" width="237" height="190" fill="none" stroke="#111" stroke-width="1"/>
<line x1="46.31" y1="415.5" x2="46.31" y2="417.5" stroke="#111" stroke-width="1"/>
<line x1="62.32" y1="415.5" x2="62.32" y2="419.1" stroke="#111" stroke-width="1"/>
<text x="62.32" y="428" text-anchor="middle" font-family='"Liberation Serif", "Times New Roman", serif' font-size="8.2" fill="#000" stroke="#000" stroke-width="0.2">200</text>
<line x1="78.34" y1="415.5" x2="78.34" y2="417.5" stroke="#111" stroke-width="1"/>
<line x1="94.35" y1="415.5" x2="94.35" y2="419.1" stroke="#111" stroke-width="1"/>
<text x="94.35" y="428" text-anchor="middle" font-family='"Liberation Serif", "Times New Roman", serif' font-size="8.2" fill="#000" stroke="#000" stroke-width="0.2">400</text>
<line x1="110.36" y1="415.5" x2="110.36" y2="417.5" stroke="#111" stroke-width="1"/>
<line x1="126.38" y1="415.5" x2="126.38" y2="419.1" stroke="#111" stroke-width="1"/>
<text x="126.38" y="428" text-anchor="middle" font-family='"Liberation Serif", "Times New Roman", serif' font-size="8.2" fill="#000" stroke="#000" stroke-width="0.2">600</text>
<line x1="142.39" y1="415.5" x2="142.39" y2="417.5" stroke="#111" stroke-width="1"/>
<line x1="158.41" y1="415.5" x2="158.41" y2="419.1" stroke="#111" stroke-width="1"/>
<text x="158.41" y="428" text-anchor="middle" font-family='"Liberation Serif", "Times New Roman", serif' font-size="8.2" fill="#000" stroke="#000" stroke-width="0.2">800</text>
<line x1="174.42" y1="415.5" x2="174.42" y2="417.5" stroke="#111" stroke-width="1"/>
<line x1="190.43" y1="415.5" x2="190.43" y2="419.1" stroke="#111" stroke-width="1"/>
<text x="190.43" y="428" text-anchor="middle" font-family='"Liberation Serif", "Times New Roman", serif' font-size="8.2" fill="#000" stroke="#000" stroke-width="0.2">1000</text>
<line x1="206.45" y1="415.5" x2="206.45" y2="417.5" stroke="#111" stroke-width="1"/>
<line x1="222.46" y1="415.5" x2="222.46" y2="419.1" stroke="#111" stroke-width="1"/>
<text x="222.46" y="428" text-anchor="middle" font-family='"Liberation Serif", "Times New Roman", serif' font-size="8.2" fill="#000" stroke="#000" stroke-width="0.2">1200</text>
<line x1="238.47" y1="415.5" x2="238.47" y2="417.5" stroke="#111" stroke-width="1"/>
<line x1="254.49" y1="415.5" x2="254.49" y2="419.1" stroke="#111" stroke-width="1"/>
<text x="254.49" y="428" text-anchor="middle" font-family='"Liberation Serif", "Times New Roman", serif' font-size="8.2" fill="#000" stroke="#000" stroke-width="0.2">1400</text>
<line x1="270.5" y1="415.5" x2="270.5" y2="417.5" stroke="#111" stroke-width="1"/>
<line x1="30.3" y1="415.5" x2="33.5" y2="415.5" stroke="#111" stroke-width="1"/>
<text x="27.2" y="418.3" text-anchor="end" font-family='"Liberation Serif", "Times New Roman", serif' font-size="8.2" fill="#000" stroke="#000" stroke-width="0.2">0</text>
<line x1="31.3" y1="398.23" x2="33.5" y2="398.23" stroke="#111" stroke-width="1"/>
<line x1="30.3" y1="380.95" x2="33.5" y2="380.95" stroke="#111" stroke-width="1"/>
<text x="27.2" y="383.75" text-anchor="end" font-family='"Liberation Serif", "Times New Roman", serif' font-size="8.2" fill="#000" stroke="#000" stroke-width="0.2">20</text>
<line x1="31.3" y1="363.68" x2="33.5" y2="363.68" stroke="#111" stroke-width="1"/>
<line x1="30.3" y1="346.41" x2="33.5" y2="346.41" stroke="#111" stroke-width="1"/>
<text x="27.2" y="349.21" text-anchor="end" font-family='"Liberation Serif", "Times New Roman", serif' font-size="8.2" fill="#000" stroke="#000" stroke-width="0.2">40</text>
<line x1="31.3" y1="329.14" x2="33.5" y2="329.14" stroke="#111" stroke-width="1"/>
<line x1="30.3" y1="311.86" x2="33.5" y2="311.86" stroke="#111" stroke-width="1"/>
<text x="27.2" y="314.66" text-anchor="end" font-family='"Liberation Serif", "Times New Roman", serif' font-size="8.2" fill="#000" stroke="#000" stroke-width="0.2">60</text>
<line x1="31.3" y1="294.59" x2="33.5" y2="294.59" stroke="#111" stroke-width="1"/>
<line x1="30.3" y1="277.32" x2="33.5" y2="277.32" stroke="#111" stroke-width="1"/>
<text x="27.2" y="280.12" text-anchor="end" font-family='"Liberation Serif", "Times New Roman", serif' font-size="8.2" fill="#000" stroke="#000" stroke-width="0.2">80</text>
<line x1="31.3" y1="260.05" x2="33.5" y2="260.05" stroke="#111" stroke-width="1"/>
<line x1="30.3" y1="242.77" x2="33.5" y2="242.77" stroke="#111" stroke-width="1"/>
<text x="27.2" y="245.57" text-anchor="end" font-family='"Liberation Serif", "Times New Roman", serif' font-size="8.2" fill="#000" stroke="#000" stroke-width="0.2">100</text>
<text x="147" y="438.8" text-anchor="middle" font-family='"Liberation Serif", "Times New Roman", serif' font-size="10.2" fill="#000" stroke="#000" stroke-width="0.26">m/z</text>
<text transform="translate(16.3,319.5) rotate(-90)" x="0" y="0" text-anchor="middle" font-family='"Liberation Serif", "Times New Roman", serif' font-size="9.75" fill="#000" stroke="#000" stroke-width="0.26">Relative intensity (%)</text>
<text x="4.6" y="232.7" font-family='"Liberation Serif", "Times New Roman", serif' font-size="10.1" fill="#000" stroke="#000" stroke-width="0.22">(C)</text>
<text x="265.8" y="235.5" text-anchor="end" font-family='"Liberation Serif", "Times New Roman", serif' font-size="9.4" fill="#000" stroke="#000" stroke-width="0.22">P3</text>
</g>
<g id="panelD">
<polygon points="319.06,412.5 319.26,408.18 319.74,408.18 319.94,412.5" fill="#1e1e1e"/>
<polygon points="328.24,412.5 328.39,411.46 328.61,411.46 328.76,412.5" fill="#1e1e1e"/>
<polygon points="342,412.5 342.23,398.51 342.77,398.51 343,412.5" fill="#1e1e1e"/>
<polygon points="345,412.5 345.23,399.55 345.77,399.55 346,412.5" fill="#1e1e1e"/>
<polygon points="365.6,412.5 366.12,386.59 366.88,386.59 367.4,412.5" fill="#1e1e1e"/>
<polygon points="367.95,412.5 368.2,330.11 368.8,330.11 369.05,412.5" fill="#1e1e1e"/>
<polygon points="369.2,412.5 369.37,407.32 369.63,407.32 369.8,412.5" fill="#1e1e1e"/>
<polygon points="377.24,412.5 377.39,411.12 377.61,411.12 377.76,412.5" fill="#1e1e1e"/>
<polygon points="381,412.5 381.23,403.35 381.77,403.35 382,412.5" fill="#1e1e1e"/>
<polygon points="383.24,412.5 383.39,410.77 383.61,410.77 383.76,412.5" fill="#1e1e1e"/>
<polygon points="387.24,412.5 387.39,411.12 387.61,411.12 387.76,412.5" fill="#1e1e1e"/>
<polygon points="391.24,412.5 391.39,411.29 391.61,411.29 391.76,412.5" fill="#1e1e1e"/>
<polygon points="399.24,412.5 399.39,411.46 399.61,411.46 399.76,412.5" fill="#1e1e1e"/>
<polygon points="404.24,412.5 404.39,411.46 404.61,411.46 404.76,412.5" fill="#1e1e1e"/>
<polygon points="415.2,412.5 415.37,409.91 415.63,409.91 415.8,412.5" fill="#1e1e1e"/>
<polygon points="416.95,412.5 417.2,239.77 417.8,239.77 418.05,412.5" fill="#1e1e1e"/>
<polygon points="429.95,412.5 430.2,348.76 430.8,348.76 431.05,412.5" fill="#1e1e1e"/>
<polygon points="432.09,412.5 432.32,383.14 432.68,383.14 432.91,412.5" fill="#1e1e1e"/>
<polygon points="431.89,412.5 432.03,402.14 432.97,402.14 433.11,412.5" fill="#1e1e1e"/>
<polygon points="434.06,412.5 434.26,408.18 434.74,408.18 434.94,412.5" fill="#1e1e1e"/>
<polygon points="436.2,412.5 436.37,410.77 436.63,410.77 436.8,412.5" fill="#1e1e1e"/>
<polygon points="439.24,412.5 439.39,410.77 439.61,410.77 439.76,412.5" fill="#1e1e1e"/>
<polygon points="442.24,412.5 442.39,411.29 442.61,411.29 442.76,412.5" fill="#1e1e1e"/>
<polygon points="461.06,412.5 461.26,410.43 461.74,410.43 461.94,412.5" fill="#1e1e1e"/>
<polygon points="466.06,412.5 466.26,410.43 466.74,410.43 466.94,412.5" fill="#1e1e1e"/>
<polygon points="470.24,412.5 470.39,411.46 470.61,411.46 470.76,412.5" fill="#1e1e1e"/>
<polygon points="511.2,412.5 511.37,411.12 511.63,411.12 511.8,412.5" fill="#1e1e1e"/>
<polygon points="513.2,412.5 513.37,410.77 513.63,410.77 513.8,412.5" fill="#1e1e1e"/>
<polygon points="514.24,412.5 514.39,411.46 514.61,411.46 514.76,412.5" fill="#1e1e1e"/>
<polyline points="459.5,402.6 461.5,406 462.3,411" fill="none" stroke="#555" stroke-width="0.6"/>
<polyline points="467.6,402.6 466,406 465.5,411" fill="none" stroke="#555" stroke-width="0.6"/>
<text x="419.7" y="238.5" text-anchor="middle" font-family='"Liberation Serif", "Times New Roman", serif' font-weight="bold" font-size="5.1" fill="#111" stroke="#111" stroke-width="0.06" textLength="18.45" lengthAdjust="spacingAndGlyphs">709.1509</text>
<text x="370.5" y="328.6" text-anchor="middle" font-family='"Liberation Serif", "Times New Roman", serif' font-weight="bold" font-size="5.1" fill="#111" stroke="#111" stroke-width="0.06" textLength="18.45" lengthAdjust="spacingAndGlyphs">403.0427</text>
<text x="437.9" y="347" text-anchor="middle" font-family='"Liberation Serif", "Times New Roman", serif' font-weight="bold" font-size="5.1" fill="#111" stroke="#111" stroke-width="0.06" textLength="18.45" lengthAdjust="spacingAndGlyphs">789.1174</text>
<text x="441.2" y="381.6" text-anchor="middle" font-family='"Liberation Serif", "Times New Roman", serif' font-weight="bold" font-size="5.1" fill="#111" stroke="#111" stroke-width="0.06" textLength="18.45" lengthAdjust="spacingAndGlyphs">806.1290</text>
<text x="357.8" y="384.3" text-anchor="middle" font-family='"Liberation Serif", "Times New Roman", serif' font-weight="bold" font-size="5.1" fill="#111" stroke="#111" stroke-width="0.06" textLength="18.45" lengthAdjust="spacingAndGlyphs">394.0533</text>
<text x="334.8" y="398.9" text-anchor="middle" font-family='"Liberation Serif", "Times New Roman", serif' font-weight="bold" font-size="5.1" fill="#111" stroke="#111" stroke-width="0.06" textLength="18.45" lengthAdjust="spacingAndGlyphs">241.0000</text>
<text x="354.9" y="399.6" text-anchor="middle" font-family='"Liberation Serif", "Times New Roman", serif' font-weight="bold" font-size="5.1" fill="#111" stroke="#111" stroke-width="0.06" textLength="18.45" lengthAdjust="spacingAndGlyphs">259.0093</text>
<text x="317.5" y="405.6" text-anchor="middle" font-family='"Liberation Serif", "Times New Roman", serif' font-weight="bold" font-size="5.1" fill="#111" stroke="#111" stroke-width="0.06" textLength="15.95" lengthAdjust="spacingAndGlyphs">96.9609</text>
<text x="383.6" y="402.5" text-anchor="middle" font-family='"Liberation Serif", "Times New Roman", serif' font-weight="bold" font-size="5.1" fill="#111" stroke="#111" stroke-width="0.06" textLength="18.45" lengthAdjust="spacingAndGlyphs">483.0079</text>
<text x="452.1" y="402.7" text-anchor="middle" font-family='"Liberation Serif", "Times New Roman", serif' font-weight="bold" font-size="5.1" fill="#111" stroke="#111" stroke-width="0.06" textLength="18.45" lengthAdjust="spacingAndGlyphs">984.0515</text>
<text x="476.6" y="402.7" text-anchor="middle" font-family='"Liberation Serif", "Times New Roman", serif' font-weight="bold" font-size="5.1" fill="#111" stroke="#111" stroke-width="0.06" textLength="20.95" lengthAdjust="spacingAndGlyphs">1015.2019</text>
<rect x="307.2" y="222.5" width="236.3" height="190" fill="none" stroke="#111" stroke-width="1"/>
<line x1="319.97" y1="412.5" x2="319.97" y2="414.5" stroke="#111" stroke-width="1"/>
<line x1="335.94" y1="412.5" x2="335.94" y2="416.1" stroke="#111" stroke-width="1"/>
<text x="335.94" y="425" text-anchor="middle" font-family='"Liberation Serif", "Times New Roman", serif' font-size="8.2" fill="#000" stroke="#000" stroke-width="0.2">200</text>
<line x1="351.91" y1="412.5" x2="351.91" y2="414.5" stroke="#111" stroke-width="1"/>
<line x1="367.87" y1="412.5" x2="367.87" y2="416.1" stroke="#111" stroke-width="1"/>
<text x="367.87" y="425" text-anchor="middle" font-family='"Liberation Serif", "Times New Roman", serif' font-size="8.2" fill="#000" stroke="#000" stroke-width="0.2">400</text>
<line x1="383.84" y1="412.5" x2="383.84" y2="414.5" stroke="#111" stroke-width="1"/>
<line x1="399.8" y1="412.5" x2="399.8" y2="416.1" stroke="#111" stroke-width="1"/>
<text x="399.8" y="425" text-anchor="middle" font-family='"Liberation Serif", "Times New Roman", serif' font-size="8.2" fill="#000" stroke="#000" stroke-width="0.2">600</text>
<line x1="415.77" y1="412.5" x2="415.77" y2="414.5" stroke="#111" stroke-width="1"/>
<line x1="431.74" y1="412.5" x2="431.74" y2="416.1" stroke="#111" stroke-width="1"/>
<text x="431.74" y="425" text-anchor="middle" font-family='"Liberation Serif", "Times New Roman", serif' font-size="8.2" fill="#000" stroke="#000" stroke-width="0.2">800</text>
<line x1="447.7" y1="412.5" x2="447.7" y2="414.5" stroke="#111" stroke-width="1"/>
<line x1="463.67" y1="412.5" x2="463.67" y2="416.1" stroke="#111" stroke-width="1"/>
<text x="463.67" y="425" text-anchor="middle" font-family='"Liberation Serif", "Times New Roman", serif' font-size="8.2" fill="#000" stroke="#000" stroke-width="0.2">1000</text>
<line x1="479.64" y1="412.5" x2="479.64" y2="414.5" stroke="#111" stroke-width="1"/>
<line x1="495.6" y1="412.5" x2="495.6" y2="416.1" stroke="#111" stroke-width="1"/>
<text x="495.6" y="425" text-anchor="middle" font-family='"Liberation Serif", "Times New Roman", serif' font-size="8.2" fill="#000" stroke="#000" stroke-width="0.2">1200</text>
<line x1="511.57" y1="412.5" x2="511.57" y2="414.5" stroke="#111" stroke-width="1"/>
<line x1="527.53" y1="412.5" x2="527.53" y2="416.1" stroke="#111" stroke-width="1"/>
<text x="527.53" y="425" text-anchor="middle" font-family='"Liberation Serif", "Times New Roman", serif' font-size="8.2" fill="#000" stroke="#000" stroke-width="0.2">1400</text>
<line x1="543.5" y1="412.5" x2="543.5" y2="414.5" stroke="#111" stroke-width="1"/>
<line x1="304" y1="412.5" x2="307.2" y2="412.5" stroke="#111" stroke-width="1"/>
<text x="300.9" y="415.3" text-anchor="end" font-family='"Liberation Serif", "Times New Roman", serif' font-size="8.2" fill="#000" stroke="#000" stroke-width="0.2">0</text>
<line x1="305" y1="395.23" x2="307.2" y2="395.23" stroke="#111" stroke-width="1"/>
<line x1="304" y1="377.95" x2="307.2" y2="377.95" stroke="#111" stroke-width="1"/>
<text x="300.9" y="380.75" text-anchor="end" font-family='"Liberation Serif", "Times New Roman", serif' font-size="8.2" fill="#000" stroke="#000" stroke-width="0.2">20</text>
<line x1="305" y1="360.68" x2="307.2" y2="360.68" stroke="#111" stroke-width="1"/>
<line x1="304" y1="343.41" x2="307.2" y2="343.41" stroke="#111" stroke-width="1"/>
<text x="300.9" y="346.21" text-anchor="end" font-family='"Liberation Serif", "Times New Roman", serif' font-size="8.2" fill="#000" stroke="#000" stroke-width="0.2">40</text>
<line x1="305" y1="326.14" x2="307.2" y2="326.14" stroke="#111" stroke-width="1"/>
<line x1="304" y1="308.86" x2="307.2" y2="308.86" stroke="#111" stroke-width="1"/>
<text x="300.9" y="311.66" text-anchor="end" font-family='"Liberation Serif", "Times New Roman", serif' font-size="8.2" fill="#000" stroke="#000" stroke-width="0.2">60</text>
<line x1="305" y1="291.59" x2="307.2" y2="291.59" stroke="#111" stroke-width="1"/>
<line x1="304" y1="274.32" x2="307.2" y2="274.32" stroke="#111" stroke-width="1"/>
<text x="300.9" y="277.12" text-anchor="end" font-family='"Liberation Serif", "Times New Roman", serif' font-size="8.2" fill="#000" stroke="#000" stroke-width="0.2">80</text>
<line x1="305" y1="257.05" x2="307.2" y2="257.05" stroke="#111" stroke-width="1"/>
<line x1="304" y1="239.77" x2="307.2" y2="239.77" stroke="#111" stroke-width="1"/>
<text x="300.9" y="242.57" text-anchor="end" font-family='"Liberation Serif", "Times New Roman", serif' font-size="8.2" fill="#000" stroke="#000" stroke-width="0.2">100</text>
<text x="420.35" y="435.8" text-anchor="middle" font-family='"Liberation Serif", "Times New Roman", serif' font-size="10.2" fill="#000" stroke="#000" stroke-width="0.26">m/z</text>
<text transform="translate(290.8,316.3) rotate(-90)" x="0" y="0" text-anchor="middle" font-family='"Liberation Serif", "Times New Roman", serif' font-size="9.75" fill="#000" stroke="#000" stroke-width="0.26">Relative intensity (%)</text>
<text x="278.5" y="229.5" font-family='"Liberation Serif", "Times New Roman", serif' font-size="10.1" fill="#000" stroke="#000" stroke-width="0.22">(D)</text>
<text x="539.4" y="232.7" text-anchor="end" font-family='"Liberation Serif", "Times New Roman", serif' font-size="9.4" fill="#000" stroke="#000" stroke-width="0.22">P4</text>
</g>
</g></svg></body></html>
